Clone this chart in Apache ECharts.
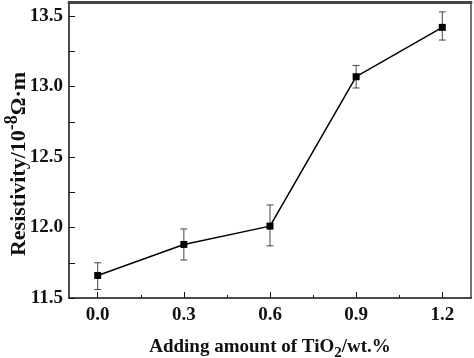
<!DOCTYPE html>
<html><head><meta charset="utf-8">
<script src="https://cdn.jsdelivr.net/npm/echarts@6/dist/echarts.min.js"></script>
<style>html,body{margin:0;padding:0;background:#fff}#c{width:474px;height:358px}</style>
</head><body><div id="c"></div>
<script>
const xValues = [0.0, 0.3, 0.6, 0.9, 1.2];
const resistivity = [11.66, 11.88, 12.01, 13.07, 13.42];
const errLow = [11.56, 11.77, 11.87, 12.99, 13.33];
const errHigh = [11.75, 11.99, 12.16, 13.15, 13.53];
const xTicks = [0.0, 0.3, 0.6, 0.9, 1.2];
const xMinorTicks = [0.15, 0.45, 0.75, 1.05];
const yTicks = [11.5, 12.0, 12.5, 13.0, 13.5];
const yMinorTicks = [11.75, 12.25, 12.75, 13.25];

const FONT = '"Liberation Serif", "Times New Roman", serif';
const chart = echarts.init(document.getElementById('c'));
const lineData = xValues.map((x, i) => [x, resistivity[i]]);
const errData = xValues.map((x, i) => [x, errLow[i], errHigh[i]]);

chart.setOption({
  animation: false,
  backgroundColor: '#fff',
  grid: { left: 69, right: 3, top: 2, bottom: 60, containLabel: false, outerBoundsMode: 'none' },
  xAxis: [{
    type: 'value', min: -0.1, max: 1.3,
    name: '{a|Adding amount of TiO}{s|2}{a|/wt.%}',
    nameLocation: 'middle', nameGap: 36,
    nameTextStyle: { rich: {
      a: { fontFamily: FONT, fontWeight: 'bold', fontSize: 19, color: '#111' },
      s: { fontFamily: FONT, fontWeight: 'bold', fontSize: 15, color: '#111', padding: [12, 0, 0, 0] }
    } },
    axisLine: { show: true, onZero: false, lineStyle: { color: '#111', width: 1.5 } },
    axisTick: { show: true, inside: true, length: 6, customValues: xTicks, lineStyle: { color: '#111', width: 1 } },
    axisLabel: { show: true, customValues: xTicks, margin: 8, fontFamily: FONT, fontWeight: 'bold', fontSize: 19, color: '#111',
      formatter: v => v.toFixed(1) },
    splitLine: { show: false }
  }, {
    type: 'value', min: -0.1, max: 1.3, position: 'bottom',
    axisLine: { show: false },
    axisTick: { show: true, inside: true, length: 3, customValues: xMinorTicks, lineStyle: { color: '#111', width: 1 } },
    axisLabel: { show: false },
    splitLine: { show: false }
  }, {
    type: 'value', min: -0.1, max: 1.3, position: 'top',
    axisLine: { show: true, onZero: false, lineStyle: { color: '#444', width: 3 } },
    axisTick: { show: false }, axisLabel: { show: false }, splitLine: { show: false }
  }],
  yAxis: [{
    type: 'value', min: 11.5, max: 13.6,
    name: '{a|Resistivity/10}{s|-8}{a|Ω·m}',
    nameLocation: 'middle', nameGap: 34, nameRotate: 90, nameMoveOverlap: false,
    nameTextStyle: { padding: [0, 28, 0, 0], rich: {
      a: { fontFamily: FONT, fontWeight: 'bold', fontSize: 22, color: '#111' },
      s: { fontFamily: FONT, fontWeight: 'bold', fontSize: 18, color: '#111', padding: [0, 0, 14, 0] }
    } },
    axisLine: { show: true, onZero: false, lineStyle: { color: '#111', width: 1.5 } },
    axisTick: { show: true, inside: true, length: 6, customValues: yTicks.concat(yMinorTicks), lineStyle: { color: '#111', width: 1 } },
    axisLabel: { show: true, customValues: yTicks, margin: 6, fontFamily: FONT, fontWeight: 'bold', fontSize: 19, color: '#111',
      formatter: v => v.toFixed(1) },
    splitLine: { show: false }
  }, {
    type: 'value', min: 11.5, max: 13.6, position: 'right',
    axisLine: { show: true, onZero: false, lineStyle: { color: '#777', width: 2 } },
    axisTick: { show: false }, axisLabel: { show: false }, splitLine: { show: false }
  }],
  series: [{
    type: 'custom',
    xAxisIndex: 0, yAxisIndex: 0,
    data: errData,
    z: 1,
    renderItem: function (params, api) {
      const x = api.value(0);
      const lo = api.coord([x, api.value(1)]);
      const hi = api.coord([x, api.value(2)]);
      const w = 3.5;
      const st = { stroke: '#444', lineWidth: 1 };
      return { type: 'group', children: [
        { type: 'line', shape: { x1: lo[0], y1: lo[1], x2: hi[0], y2: hi[1] }, style: st },
        { type: 'line', shape: { x1: lo[0] - w, y1: lo[1], x2: lo[0] + w, y2: lo[1] }, style: st },
        { type: 'line', shape: { x1: hi[0] - w, y1: hi[1], x2: hi[0] + w, y2: hi[1] }, style: st }
      ] };
    }
  }, {
    type: 'line',
    xAxisIndex: 0, yAxisIndex: 0,
    data: lineData,
    z: 2,
    symbol: 'rect', symbolSize: 7,
    itemStyle: { color: '#000' },
    lineStyle: { color: '#000', width: 1.5 }
  }]
});
</script>
</body></html>
